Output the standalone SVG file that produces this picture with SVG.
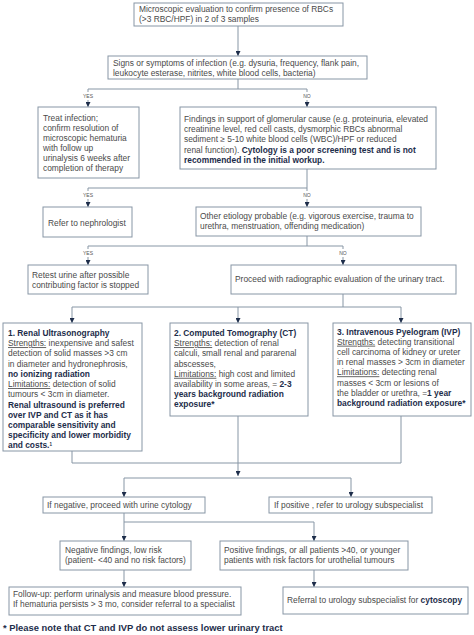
<svg xmlns="http://www.w3.org/2000/svg" width="474" height="635" viewBox="0 0 474 635">
<defs>
<marker id="ah" markerUnits="userSpaceOnUse" markerWidth="5" markerHeight="5" viewBox="0 0 6 6" refX="6" refY="3" orient="auto">
<path d="M0,0 L6,3 L0,6 z" fill="#1d2d4a"/>
</marker>
</defs>
<style>
rect{fill:#fff;stroke:#8796a5;stroke-width:1}
text{font-family:"Liberation Sans",Arial,sans-serif;font-size:8.4px;fill:#4a4a4a}
.b{font-weight:bold;fill:#1d2d4a}
.u{text-decoration:underline}
.lbl{font-size:5px;text-anchor:middle;fill:#555}
#connectors line,#connectors path{stroke:#8796a5;stroke-width:1;fill:none}
.a{marker-end:url(#ah)}
</style>
<rect x="0" y="0" width="474" height="635" style="fill:#fff;stroke:none"/>
<g id="connectors">
<line class="a" x1="238" y1="26" x2="238" y2="56"/>
<path d="M238,79 V89 M88,92 V89 H307 V92"/>
<line class="a" x1="88" y1="100" x2="88" y2="107"/>
<line class="a" x1="307" y1="100" x2="307" y2="107"/>
<path d="M307,169 V188 M88,191 V188 H307 V191"/>
<line class="a" x1="88" y1="199" x2="88" y2="207"/>
<line class="a" x1="307" y1="199" x2="307" y2="207"/>
<path d="M307,236 V246 M88,249 V246 H343 V249"/>
<line class="a" x1="88" y1="257" x2="88" y2="265"/>
<line class="a" x1="343" y1="257" x2="343" y2="265"/>
<path d="M343,294 V307 M72,307 H401"/>
<line class="a" x1="72" y1="307" x2="72" y2="323"/>
<line class="a" x1="238" y1="307" x2="238" y2="323"/>
<line class="a" x1="401" y1="307" x2="401" y2="323"/>
<path d="M72,451 V463 M401,416 V463 M72,463 H401 M238,416 V463"/>
<line class="a" x1="238" y1="463" x2="238" y2="476"/>
<path d="M124,478 H351"/>
<line class="a" x1="124" y1="478" x2="124" y2="497"/>
<line class="a" x1="351" y1="478" x2="351" y2="497"/>
<path d="M124,513 V522 H314"/>
<line class="a" x1="124" y1="522" x2="124" y2="541"/>
<line class="a" x1="314" y1="522" x2="314" y2="541"/>
<line class="a" x1="124" y1="570" x2="124" y2="587"/>
<line class="a" x1="314" y1="570" x2="314" y2="587"/>
<text class="lbl" x="88" y="98">YES</text>
<text class="lbl" x="307" y="98">NO</text>
<text class="lbl" x="88" y="197">YES</text>
<text class="lbl" x="307" y="197">NO</text>
<text class="lbl" x="88" y="255">YES</text>
<text class="lbl" x="343" y="255">NO</text>
</g>
<g id="n1"><rect x="134" y="3" width="209" height="23"/>
<text x="139" y="11.5">Microscopic evaluation to confirm presence of RBCs</text>
<text x="139" y="22">(&gt;3 RBC/HPF) in 2 of 3 samples</text></g>
<g id="n2"><rect x="108" y="56" width="259" height="23"/>
<text x="113" y="65.5">Signs or symptoms of infection (e.g. dysuria, frequency, flank pain,</text>
<text x="113" y="76">leukocyte esterase, nitrites, white blood cells, bacteria)</text></g>
<g id="n3"><rect x="38" y="107" width="101" height="71"/>
<text x="43" y="121">Treat infection;</text>
<text x="43" y="131">confirm resolution of</text>
<text x="43" y="141">microscopic hematuria</text>
<text x="43" y="151">with follow up</text>
<text x="43" y="161">urinalysis 6 weeks after</text>
<text x="43" y="171">completion of therapy</text></g>
<g id="n4"><rect x="180" y="107" width="256" height="62"/>
<text x="184" y="122">Findings in support of glomerular cause (e.g. proteinuria, elevated</text>
<text x="184" y="132">creatinine level, red cell casts, dysmorphic RBCs abnormal</text>
<text x="184" y="142">sediment ≥ 5-10 white blood cells (WBC)/HPF or reduced</text>
<text x="184" y="152.5">renal function). <tspan class="b">Cytology is a poor screening test and is not</tspan></text>
<text x="184" y="162.5" class="b">recommended in the initial workup.</text></g>
<g id="n5"><rect x="43" y="207" width="89" height="30"/>
<text x="48" y="225.5">Refer to nephrologist</text></g>
<g id="n6"><rect x="196" y="207" width="225" height="29"/>
<text x="200" y="218.5">Other etiology probable (e.g. vigorous exercise, trauma to</text>
<text x="200" y="228.5">urethra, menstruation, offending medication)</text></g>
<g id="n7"><rect x="28" y="265" width="120" height="29"/>
<text x="32" y="277.5">Retest urine after possible</text>
<text x="32" y="287.5">contributing factor is stopped</text></g>
<g id="n8"><rect x="231" y="265" width="225" height="29"/>
<text x="235" y="281.5">Proceed with radiographic evaluation of the urinary tract.</text></g>
<g id="n9"><rect x="3" y="323" width="139" height="128"/>
<text x="8" y="336" class="b">1. Renal Ultrasonography</text>
<text x="8" y="346.2"><tspan class="u">Strengths:</tspan> inexpensive and safest</text>
<text x="8" y="356.4">detection of solid masses &gt;3 cm</text>
<text x="8" y="366.6">in diameter and hydronephrosis,</text>
<text x="8" y="376.8" class="b">no ionizing radiation</text>
<text x="8" y="387"><tspan class="u">Limitations:</tspan> detection of solid</text>
<text x="8" y="397.2">tumours  &lt; 3cm in diameter.</text>
<text x="8" y="407.6" class="b">Renal ultrasound is preferred</text>
<text x="8" y="417.8" class="b">over IVP and CT as it has</text>
<text x="8" y="428" class="b">comparable sensitivity and</text>
<text x="8" y="438.4" class="b">specificity and lower morbidity</text>
<text x="8" y="448.4" class="b">and costs.<tspan font-size="4.5px" dy="-2.5">1</tspan></text></g>
<g id="n10"><rect x="170" y="323" width="138" height="93"/>
<text x="174" y="336" class="b">2. Computed Tomography  (CT)</text>
<text x="174" y="346.2"><tspan class="u">Strengths:</tspan> detection of renal</text>
<text x="174" y="356.4">calculi, small renal and pararenal</text>
<text x="174" y="366.6">abscesses,</text>
<text x="174" y="376.8"><tspan class="u">Limitations:</tspan> high cost and limited</text>
<text x="174" y="387">availability in some areas, = <tspan class="b">2-3</tspan></text>
<text x="174" y="397.2" class="b">years background radiation</text>
<text x="174" y="407.4" class="b">exposure*</text></g>
<g id="n11"><rect x="333" y="323" width="138" height="93"/>
<text x="337" y="334.5" class="b">3. Intravenous Pyelogram (IVP)</text>
<text x="337" y="344.7"><tspan class="u">Strengths:</tspan> detecting transitional</text>
<text x="337" y="354.9">cell carcinoma of kidney or ureter</text>
<text x="337" y="365.1">in renal masses &gt; 3cm in diameter</text>
<text x="337" y="375.3"><tspan class="u">Limitations:</tspan> detecting renal</text>
<text x="337" y="385.5">masses &lt; 3cm or lesions of</text>
<text x="337" y="395.7">the bladder or urethra, =<tspan class="b">1 year</tspan></text>
<text x="337" y="405.9" class="b">background radiation exposure*</text></g>
<g id="n12"><rect x="43" y="497" width="162" height="16"/>
<text x="47" y="507.5">If negative, proceed with urine cytology</text></g>
<g id="n13"><rect x="269" y="497" width="163" height="16"/>
<text x="274" y="507.5">If positive , refer to urology subspecialist</text></g>
<g id="n14"><rect x="60" y="541" width="131" height="29"/>
<text x="65" y="552.5">Negative findings, low risk</text>
<text x="65" y="562.5">(patient- &lt;40 and no risk factors)</text></g>
<g id="n15"><rect x="220" y="541" width="188" height="29"/>
<text x="224" y="552.5">Positive findings, or all patients &gt;40, or younger</text>
<text x="224" y="562.5">patients with risk factors for urothelial tumours</text></g>
<g id="n16"><rect x="9" y="587" width="232" height="28"/>
<text x="13" y="597">Follow-up: perform urinalysis and measure blood pressure.</text>
<text x="13" y="607">If hematuria persists &gt; 3 mo, consider referral to a specialist</text></g>
<g id="n17"><rect x="283" y="587" width="185" height="27"/>
<text x="287" y="603">Referral to urology subspecialist for <tspan class="b">cytoscopy</tspan></text></g>
<text x="3" y="631" class="b" style="font-size:9.4px">* Please note that CT and IVP do not assess lower urinary tract</text>
</svg>
